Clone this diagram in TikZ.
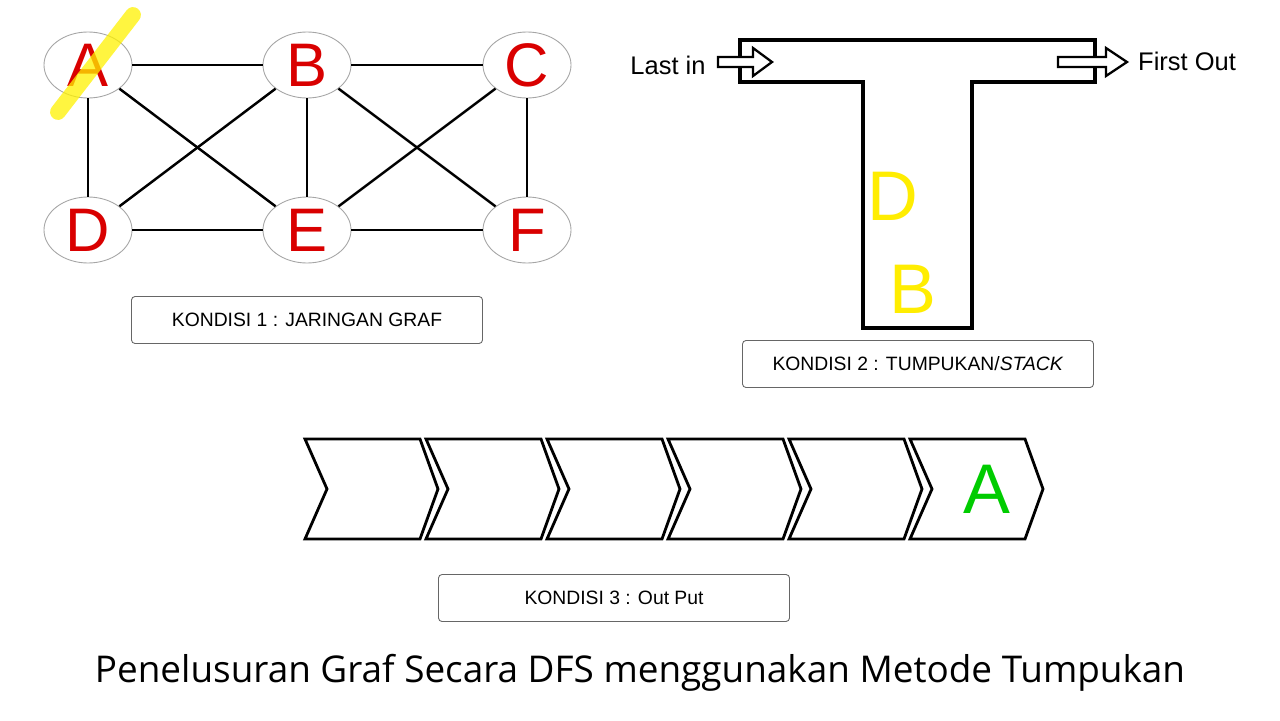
\documentclass[tikz,border=0pt]{standalone}
\usepackage{fontspec}
\setmainfont{Liberation Sans}
\newfontfamily\titlefont{Open Sans}
\usetikzlibrary{shapes.geometric}
\begin{document}
\begin{tikzpicture}[x=0.02cm,y=-0.02cm,
  vtx/.style={draw=gray!70,line width=0.5pt,fill=white,ellipse,minimum width=88*0.02cm,minimum height=66*0.02cm,inner sep=0pt,text=red!85!black,font=\fontsize{35}{35}\selectfont},
  edge/.style={line width=1.4pt},
  lbox/.style={draw=gray!80!black,rounded corners=2pt,line width=0.5pt,minimum width=351*0.02cm,minimum height=47*0.02cm,font=\fontsize{11}{12}\selectfont},
  chev/.style={draw,line width=1.6pt,fill=white},
  harrowst/.style={draw,line width=1.3pt,fill=white,line join=miter}]
\useasboundingbox (0,0) rectangle (1280,720);
\fill[white] (0,0) rectangle (1280,720);
% graph
\node[vtx] (A) at (88,65) {A};
\node[vtx] (B) at (307,65) {B};
\node[vtx] (C) at (527,65) {C};
\node[vtx] (D) at (88,230) {D};
\node[vtx] (E) at (307,230) {E};
\node[vtx] (F) at (527,230) {F};
\foreach \a/\b in {A/B,B/C,A/D,B/E,C/F,D/E,E/F,A/E,B/D,B/F,C/E} \draw[edge] (\a) -- (\b);
\draw[yellow,opacity=0.75,line width=9pt,line cap=round] (58,112) -- (133,15);
\node[lbox] (k1) at (307,320) {KONDISI 1 : JARINGAN GRAF};
% stack
\draw[line width=2pt,fill=white] (740,40) -- (1095,40) -- (1095,82) -- (972,82) -- (972,328) -- (863,328) -- (863,82) -- (740,82) -- cycle;
\draw[harrowst] (718,57) -- (753,57) -- (753,48) -- (772,62) -- (753,76) -- (753,67) -- (718,67) -- cycle;
\draw[harrowst] (1058,57) -- (1106,57) -- (1106,48) -- (1127,62) -- (1106,76) -- (1106,67) -- (1058,67) -- cycle;
\node[font=\fontsize{14.5}{16}\selectfont] (li) at (668,65) {Last in};
\node[font=\fontsize{14.5}{16}\selectfont] (fo) at (1187,61) {First Out};
\node[text=yellow!95!orange,font=\fontsize{40}{40}\selectfont] (sD) at (893,196) {D};
\node[text=yellow!95!orange,font=\fontsize{40}{40}\selectfont] (sB) at (913,289) {B};
\node[lbox] (k2) at (918,364) {KONDISI 2 : TUMPUKAN/\textit{STACK}};
% output chevrons
\foreach \x in {305,426,547,668,789,910}
  \draw[chev] (\x,439) -- (\x+115,439) -- (\x+133,489) -- (\x+115,539) -- (\x,539) -- (\x+22,489) -- cycle;
\node[text=green!80!black,font=\fontsize{40}{40}\selectfont] (oA) at (987,489) {A};
\node[lbox] (k3) at (614,598) {KONDISI 3 : Out Put};
\node[font=\titlefont\fontsize{21}{24}\selectfont] (t) at (640,673) {Penelusuran Graf Secara DFS menggunakan Metode Tumpukan};
\end{tikzpicture}
\end{document}
